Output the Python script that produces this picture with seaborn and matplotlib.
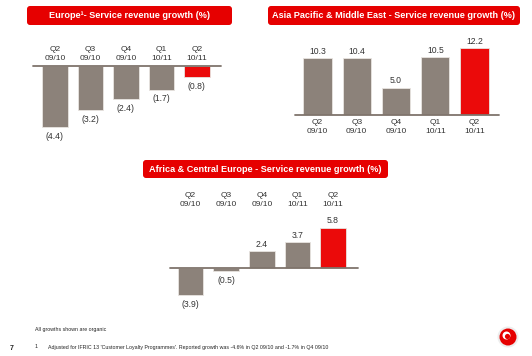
import matplotlib
matplotlib.use("Agg")
import matplotlib.pyplot as plt
from matplotlib.patches import FancyBboxPatch, Circle
from matplotlib.transforms import IdentityTransform
import seaborn as sns
import pandas as pd

quarters = ["Q2\n09/10", "Q3\n09/10", "Q4\n09/10", "Q1\n10/11", "Q2\n10/11"]
europe = [-4.4, -3.2, -2.4, -1.7, -0.8]
asia = [10.3, 10.4, 5.0, 10.5, 12.2]
africa = [-3.9, -0.5, 2.4, 3.7, 5.8]
titles = ["Europe\u00b9- Service revenue growth (%)",
          "Asia Pacific & Middle East - Service revenue growth (%)",
          "Africa & Central Europe - Service revenue growth (%)"]
footnote_a = "All growths shown are organic"
footnote_b = ("Adjusted for IFRIC 13 'Customer Loyalty Programmes'. Reported growth was "
              "-4.6% in Q2 09/10 and -1.7% in Q4 09/10")
page_no = "7"

GREY = "#8C827A"
RED = "#EB0A0A"
BASE = "#7F746C"
TXT = "#333333"
FONT = "Liberation Sans"

sns.set_theme(style="white")
plt.rcParams["font.family"] = [FONT, "DejaVu Sans"]

W, H = 532, 356
fig = plt.figure(figsize=(W / 100, H / 100), dpi=100)
fig.patch.set_facecolor("white")


def rect(x0, y0, x1, y1):
    return [x0 / W, 1 - y1 / H, (x1 - x0) / W, (y1 - y0) / H]


def fmt(v):
    return f"({abs(v):.1f})" if v < 0 else f"{v:.1f}"


def panel(box, values, ylim, xlim, top_labels, pos_off, neg_off):
    ax = fig.add_axes(rect(*box))
    df = pd.DataFrame({"q": quarters, "v": values})
    sns.barplot(data=df, x="q", y="v", hue="q", order=quarters, hue_order=quarters,
                palette=[GREY] * 4 + [RED], width=0.72, legend=False, saturation=1,
                edgecolor="#E8E4E0", linewidth=0.6, ax=ax)
    ax.set_ylim(*ylim)
    ax.set_xlim(*xlim)
    ax.axhline(0, color=BASE, lw=1.3, clip_on=False, zorder=5)
    for s in ax.spines.values():
        s.set_visible(False)
    ax.set_yticks([])
    ax.set_xlabel("")
    ax.set_ylabel("")
    if top_labels:
        ax.xaxis.tick_top()
    ax.tick_params(axis="x", length=0, pad=3, labelsize=6, labelcolor=TXT)
    for lab in ax.get_xticklabels():
        lab.set_linespacing(1.35)
    for i, v in enumerate(values):
        if v < 0:
            ax.annotate(fmt(v), (i, v), xytext=(0, -neg_off), textcoords="offset points",
                        ha="center", va="top", fontsize=6.2, color=TXT)
        else:
            ax.annotate(fmt(v), (i, v), xytext=(0, pos_off), textcoords="offset points",
                        ha="center", va="bottom", fontsize=6.2, color=TXT)
    return ax


# Europe: baseline y=66, 13.9 px/unit
panel((33, 66, 221, 145), europe, (-(145 - 66) / 13.9, 0), (-0.62, 4.68), True, 2, 3.5)
# Asia Pacific: baseline y=115, 5.5 px/unit
panel((295, 35, 499, 115), asia, (0, (115 - 35) / 5.5), (-0.57, 4.62), False, 1.5, 3)
# Africa: baseline y=268, 6.9 px/unit
panel((170, 212, 358, 310), africa, (-(310 - 268) / 6.9, (268 - 212) / 6.9),
      (-0.58, 4.70), True, 2, 3.5)

# title boxes (pixel coordinates)
ident = IdentityTransform()
for (x0, y0, x1, y1), t in zip([(27, 6, 232, 25), (268, 6, 520, 25), (143, 160, 388, 178)], titles):
    p = FancyBboxPatch((x0, H - y1), x1 - x0, y1 - y0,
                       boxstyle="round,pad=0,rounding_size=3",
                       facecolor="#E60000", edgecolor="none", transform=ident)
    fig.patches.append(p)
    fig.text((x0 + x1) / 2 / W, 1 - (y0 + y1) / 2 / H, t, ha="center", va="center",
             color="white", fontsize=6.6, fontweight="bold")

# footer
fig.text(35 / W, 1 - 329 / H, footnote_a, fontsize=3.8, color="#222222", va="center")
fig.text(35 / W, 1 - 347 / H, "1.", fontsize=3.8, color="#222222", va="center")
fig.text(48 / W, 1 - 347 / H, footnote_b, fontsize=3.8, color="#222222", va="center")
fig.text(10 / W, 1 - 348 / H, page_no, fontsize=5, color="#222222", va="center",
         fontweight="bold")

# logo
cx, cy = 508, H - 337
fig.patches.append(Circle((cx, cy), 10.5, transform=ident, facecolor="#EDEDED", edgecolor="none"))
fig.patches.append(Circle((cx, cy), 8.5, transform=ident, facecolor="#E60000", edgecolor="none"))
fig.patches.append(Circle((cx - 1.5, cy + 1.5), 4.0, transform=ident, facecolor="white", edgecolor="none"))
fig.patches.append(Circle((cx - 0.5, cy + 0.5), 2.6, transform=ident, facecolor="#E60000", edgecolor="none"))

fig.savefig("out.png", dpi=100)
